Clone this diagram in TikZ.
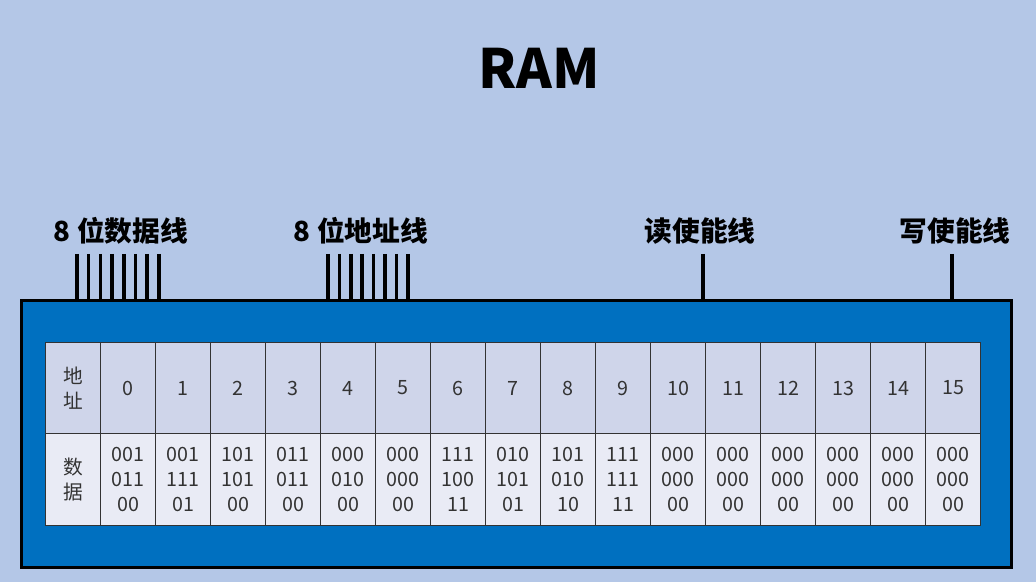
\documentclass[tikz,border=0pt]{standalone}
\usepackage{fontspec}
\setmainfont{Noto Sans CJK SC}
\usepackage{xcolor}
\usetikzlibrary{positioning}

\definecolor{bgblue}{HTML}{B4C7E7}
\definecolor{boxblue}{HTML}{0070C0}
\definecolor{headfill}{HTML}{CFD5EA}
\definecolor{rowfill}{HTML}{E9EBF5}

\tikzset{
  titletext/.style={font=\bfseries\fontsize{38.5}{42}\selectfont},
  linelabel/.style={font=\bfseries\fontsize{19.7}{22}\selectfont},
  wire/.style={line width=2.5pt},
  rambox/.style={draw=black, line width=2.4pt, fill=boxblue, minimum width=24.75cm, minimum height=6.675cm, inner sep=0pt},
  cell/.style={draw=black!80, line width=0.7pt, anchor=north west, minimum width=1.375cm, inner sep=0pt, align=center, text=black!80, font=\fontsize{14}{18}\selectfont},
  headcell/.style={cell, fill=headfill, minimum height=2.275cm},
  datacell/.style={cell, fill=rowfill, minimum height=2.3cm}
}

\begin{document}
\begin{tikzpicture}[x=0.025cm,y=-0.025cm]

\fill[bgblue] (0,0) rectangle (1036,582);
\useasboundingbox (0,0) rectangle (1036,582);

% ---------- TITULO ----------
\node[titletext] (title) at (539,68) {RAM};

% ---------- CAJA ----------
\node[rambox] (ram) at (516.5,434) {};

% ---------- LINEAS ----------
\node[linelabel] (datalbl) at (121,231) {8 位数据线};
\node[linelabel] (addrlbl) at (361,231) {8 位地址线};
\node[linelabel] (readlbl) at (700,231) {读使能线};
\node[linelabel] (writelbl) at (955,231) {写使能线};

\foreach \i in {0,...,7} {
  \coordinate (d\i) at (77+11.7*\i,254);
  \draw[wire] (d\i) -- (d\i |- ram.north);
  \coordinate (a\i) at (328+11.4*\i,254);
  \draw[wire] (a\i) -- (a\i |- ram.north);
}

\coordinate (rd) at (703,254);
\draw[wire] (rd) -- (rd |- ram.north);
\coordinate (wr) at (952,254);
\draw[wire] (wr) -- (wr |- ram.north);

% ---------- TABLA ----------
\node[headcell] (h0) at (45,342) {地\\址};
\node[datacell] (r0) at (45,433) {数\\据};

\foreach \a/\d [count=\c] in {0/001\\011\\00, 1/001\\111\\01, 2/101\\101\\00,
    3/011\\011\\00, 4/000\\010\\00, 5/000\\000\\00, 6/111\\100\\11,
    7/010\\101\\01, 8/101\\010\\10, 9/111\\111\\11, 10/000\\000\\00,
    11/000\\000\\00, 12/000\\000\\00, 13/000\\000\\00, 14/000\\000\\00,
    15/000\\000\\00} {
  \node[headcell] (h\c) at (45+55*\c,342) {\a};
  \node[datacell] (r\c) at (45+55*\c,433) {\d};
}

\end{tikzpicture}
\end{document}
